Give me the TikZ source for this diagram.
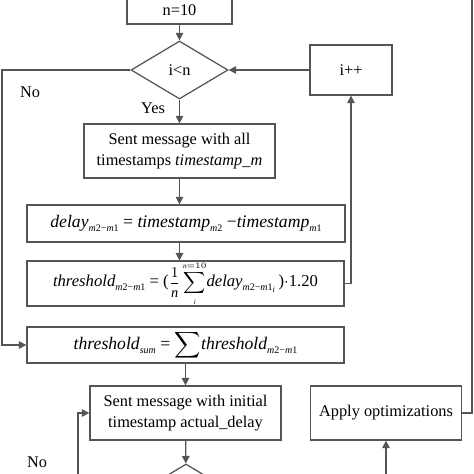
\documentclass[tikz,border=0pt]{standalone}
\usepackage{amsmath}
\usepackage{fontspec}
\setmainfont{Liberation Serif}
\DeclareSymbolFont{letters}{TU}{\rmdefault}{m}{it}
\DeclareSymbolFont{operators}{TU}{\rmdefault}{m}{n}
\usetikzlibrary{shapes.geometric,arrows.meta}
\definecolor{linegray}{HTML}{555555}
% small lowered index and formula font
\newcommand{\lsub}[1]{\raisebox{-0.5ex}{\fontsize{6}{6}\selectfont #1}}
\newcommand{\eqfont}{\fontsize{10.6}{12}\selectfont}
\begin{document}
\begin{tikzpicture}[x=0.6pt, y=-0.6pt, line width=0.75pt,
                  font=\fontsize{9.8}{12.6}\selectfont,
                  box/.style={draw=linegray, shape=rectangle, inner sep=1pt, align=center},
                  cond/.style={draw=linegray, shape=diamond, inner sep=0pt, aspect=1.67,
                  minimum width=58.2pt, minimum height=34.8pt},
                  lbl/.style={inner sep=0pt},
                  arr/.style={draw=linegray, -{Triangle[length=4.5pt,width=4.5pt]}},
                  ln/.style={draw=linegray}]
              \useasboundingbox (0,0) rectangle (474,474);
              \clip (0,0) rectangle (474,474);
              \node[box, minimum width=63pt, minimum height=16.8pt] (init) at (179.5,10) {n=10};
              \node[cond] (check) at (179.5,70) {i<n};
              \node[box, minimum width=49.2pt, minimum height=30pt] (inc) at (351,70) {i++};
              \node[box, minimum width=114.6pt, minimum height=32.4pt] (sendall) at (179.5,151)
                  {Sent message with all\\timestamps \textit{timestamp\_m}};
              \node[box, minimum width=190.8pt, minimum height=22.2pt] (delay) at (186,223.5)
                  {\eqfont\textit{delay}\lsub{\textit{m}2−\textit{m}1} = \textit{timestamp}\lsub{\textit{m}2}
                  −\textit{timestamp}\lsub{\textit{m}1}};
              \node[box, minimum width=190.2pt, minimum height=22.2pt, inner sep=0pt] (thresh) at (185.5,283.5)
                  {\fontsize{10}{12}\selectfont\textit{threshold}\lsub{\textit{m}2−\textit{m}1} =
                  ({\fontsize{8.6}{10}\selectfont$\dfrac{1}{n}\displaystyle\sum\limits_{\scriptscriptstyle i}^{\scriptscriptstyle n=10}$}\textit{delay}\lsub{\textit{m}2−\textit{m}1\textsubscript{\textit{i}}}\,)$\cdot$1.20};
              \node[box, minimum width=190.2pt, minimum height=21.6pt, inner sep=0pt] (sum) at (185.5,345)
                  {\eqfont\textit{threshold}\lsub{\textit{sum}} = $\displaystyle\sum$\textit{threshold}\lsub{\textit{m}2−\textit{m}1}};
              \node[box, minimum width=114.6pt, minimum height=32.4pt] (sendinit) at (185.5,413)
                  {Sent message with initial\\timestamp actual\_delay};
              \node[box, minimum width=90.6pt, minimum height=32.4pt] (apply) at (386,413)
                  {Apply optimizations};
              \node[cond] (check2) at (186,493) {};
              \node[lbl] (no1) at (30,92) {No};
              \node[lbl] (yes) at (153,108) {Yes};
              \node[lbl] (no2) at (37,462) {No};
              \coordinate (top) at (472,-10);
              \coordinate (loopin) at (78,490);
              \coordinate (optin) at (386,490);
              \draw[arr] (init) -- (check);
              \draw[arr] (inc) -- (check);
              \draw[arr] (check) -- (sendall);
              \draw[arr] (check.west) -- (2,70) |- (sum.west);
              \draw[arr] (sendall.south) -- (sendall.south |- delay.north);
              \draw[arr] (sendall.south |- delay.south) -- (sendall.south |- thresh.north);
              \draw[arr] (thresh.east) -| (inc.south);
              \draw[arr] (sum) -- (sendinit);
              \draw[arr] (sendinit) -- (check2);
              \draw[ln] (apply.east) -| (top);
              \draw[arr] (loopin) |- (sendinit.west);
              \draw[arr] (optin) -- (apply);
          \end{tikzpicture}
\end{document}
